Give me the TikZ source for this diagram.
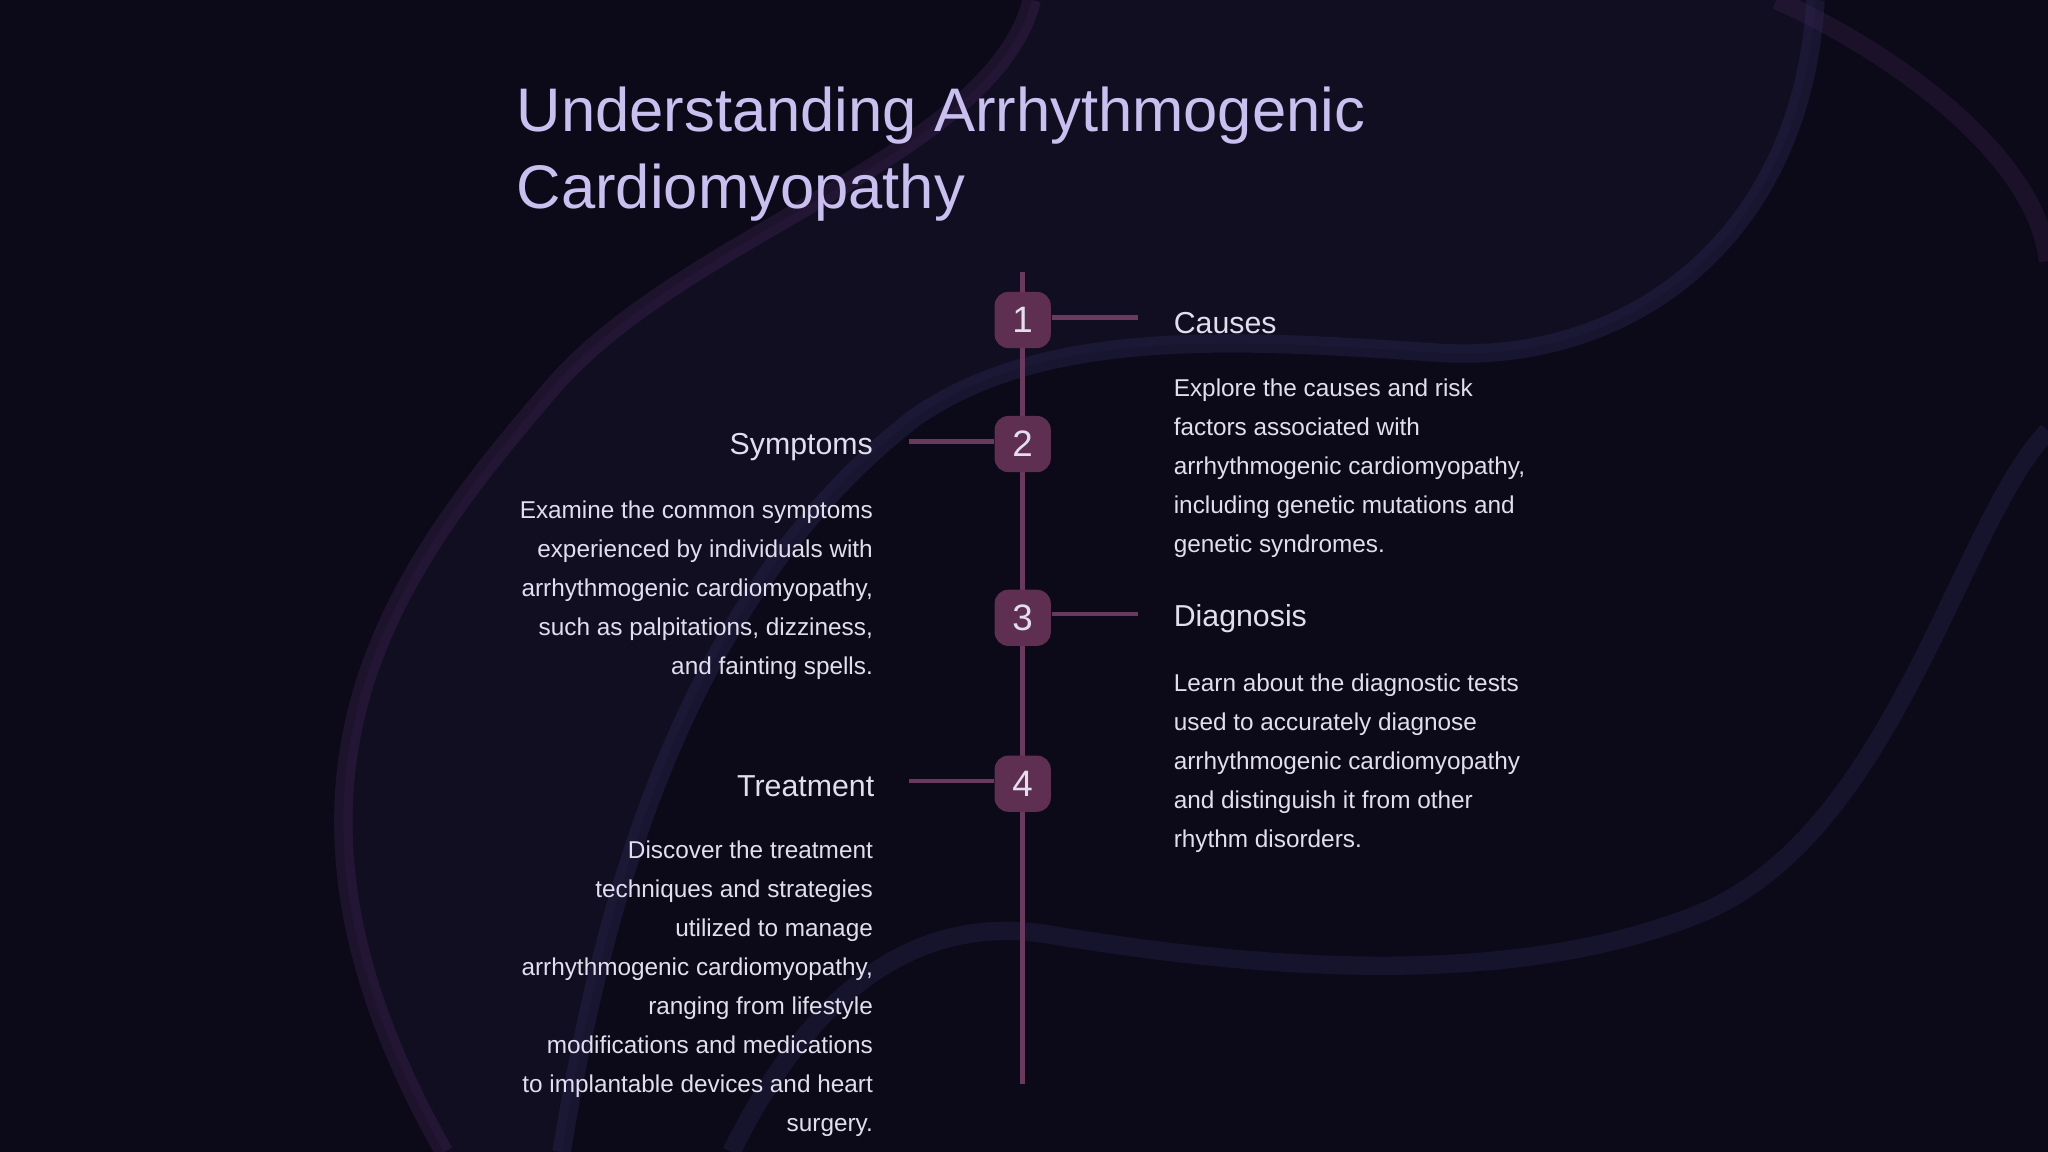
\documentclass[tikz,border=0pt]{standalone}
\usepackage{fontspec}
\setmainfont{Liberation Sans}
\definecolor{bg}{HTML}{0C0A19}
\definecolor{bg2}{HTML}{110E22}
\definecolor{glow}{HTML}{4A2A5E}
\definecolor{glowb}{HTML}{2E2C5A}
\definecolor{titlec}{HTML}{C9C0F0}
\definecolor{bodyc}{HTML}{E2DEEE}
\definecolor{linec}{HTML}{6A3A5E}
\definecolor{boxc}{HTML}{5E2F50}
\begin{document}
\begin{tikzpicture}[x=0.01cm,y=-0.01cm,
  numbox/.style={rounded corners=3pt,fill=boxc,minimum size=0.43cm,inner sep=0,text=bodyc,font=\fontsize{8}{9}\selectfont},
  conn/.style={linec,line width=1pt},
  headr/.style={anchor=west,inner sep=0,text=bodyc,font=\fontsize{6.6}{8}\selectfont},
  headl/.style={anchor=east,inner sep=0,text=bodyc,font=\fontsize{6.6}{8}\selectfont},
  bodyr/.style={anchor=north west,align=left,text=bodyc,font=\fontsize{5.3}{8.5}\selectfont,inner sep=0},
  bodyl/.style={anchor=north east,align=right,text=bodyc,font=\fontsize{5.3}{8.5}\selectfont,inner sep=0}]
\fill[bg] (0,0) rectangle (1568,882);
\useasboundingbox (0,0) rectangle (1568,882);
% background waves
\fill[bg2] (790,0) .. controls (760,120) and (520,180) .. (420,300) .. controls (300,440) and (180,600) .. (340,882) -- (430,882) .. controls (460,700) and (520,460) .. (700,320) .. controls (800,250) and (950,260) .. (1100,270) .. controls (1250,280) and (1380,180) .. (1390,0) -- cycle;
\draw[glow,line width=4pt,opacity=0.3] (790,0) .. controls (760,120) and (520,180) .. (420,300) .. controls (300,440) and (180,600) .. (340,882);
\draw[glowb,line width=4pt,opacity=0.35] (430,882) .. controls (460,700) and (520,460) .. (700,320) .. controls (800,250) and (950,260) .. (1100,270) .. controls (1250,280) and (1380,180) .. (1390,0);
\draw[glowb,line width=4pt,opacity=0.3] (560,882) .. controls (620,760) and (700,700) .. (800,715) .. controls (950,740) and (1150,760) .. (1300,700) .. controls (1450,640) and (1500,400) .. (1568,330);
\draw[glow,line width=4pt,opacity=0.25] (1360,0) .. controls (1450,40) and (1560,120) .. (1568,200);
% title
\node[anchor=north west,align=left,text=titlec,font=\fontsize{13.4}{16.8}\selectfont,inner sep=0] (title) at (395,66) {Understanding Arrhythmogenic\\Cardiomyopathy};
% timeline
\coordinate (top) at (783,208);
\coordinate (bot) at (783,830);
\draw[linec,line width=1pt] (top) -- (bot);
\node[numbox] (n1) at (783,245) {1};
\node[numbox] (n2) at (783,340) {2};
\node[numbox] (n3) at (783,473) {3};
\node[numbox] (n4) at (783,600) {4};
\coordinate (c1) at (871,243);
\coordinate (c2) at (696,338);
\coordinate (c3) at (871,470);
\coordinate (c4) at (696,598);
\draw[conn] (n1.east |- c1) -- (c1);
\draw[conn] (n2.west |- c2) -- (c2);
\draw[conn] (n3.east |- c3) -- (c3);
\draw[conn] (n4.west |- c4) -- (c4);
% texts
\node[headr] (h1) at (898,247) {Causes};
\node[bodyr] (b1) at (898,289) {Explore the causes and risk\\factors associated with\\arrhythmogenic cardiomyopathy,\\including genetic mutations and\\genetic syndromes.};
\node[headl] (h2) at (669,342) {Symptoms};
\node[bodyl] (b2) at (669,383) {Examine the common symptoms\\experienced by individuals with\\arrhythmogenic cardiomyopathy,\\such as palpitations, dizziness,\\and fainting spells.};
\node[headr] (h3) at (898,474) {Diagnosis};
\node[bodyr] (b3) at (898,515) {Learn about the diagnostic tests\\used to accurately diagnose\\arrhythmogenic cardiomyopathy\\and distinguish it from other\\rhythm disorders.};
\node[headl] (h4) at (670,602) {Treatment};
\node[bodyl] (b4) at (669,643) {Discover the treatment\\techniques and strategies\\utilized to manage\\arrhythmogenic cardiomyopathy,\\ranging from lifestyle\\modifications and medications\\to implantable devices and heart\\surgery.};
\end{tikzpicture}
\end{document}
